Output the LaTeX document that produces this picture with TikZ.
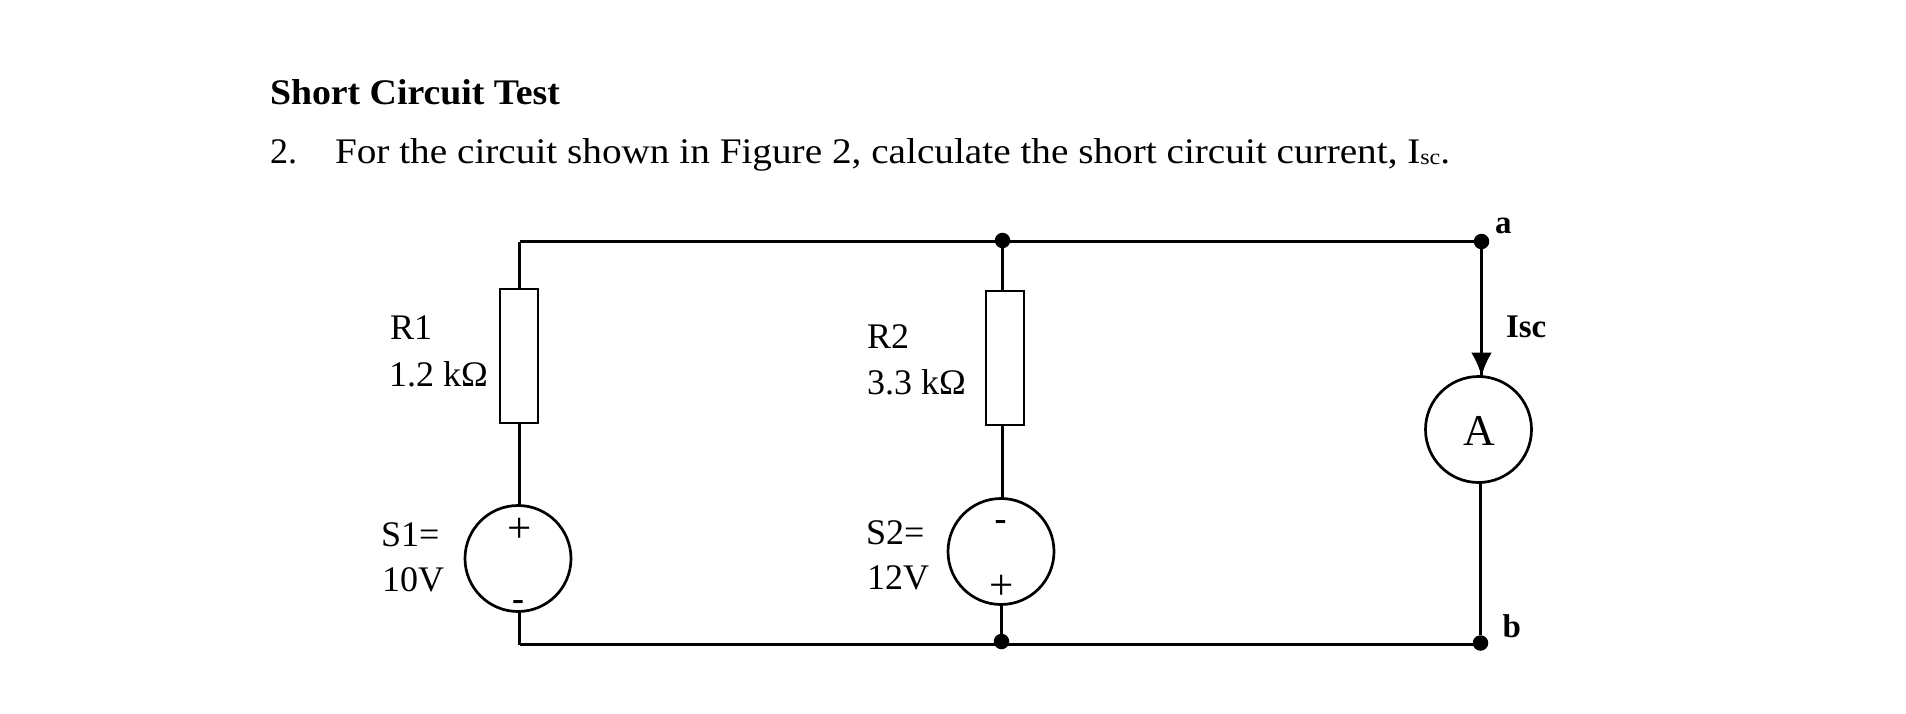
\documentclass[tikz,border=0pt]{standalone}
\usepackage{fontspec}
\setmainfont{Liberation Serif}
\newfontfamily\questionfont[FakeStretch=1.09]{Liberation Serif}
\newfontfamily\titlefont[FakeStretch=1.05]{Liberation Serif}
\usetikzlibrary{arrows.meta}
\tikzset{
  px/.style={x=1pt,y=-1pt},
  wire/.style={draw=black,line width=2.8pt},
  heavywire/.style={draw=black,line width=3.6pt},
  busbar/.style={draw=black,line width=3pt},
  component/.style={draw=black,line width=2.7pt,fill=white,inner sep=0pt,outer sep=0pt},
  roundel/.style={component,circle,minimum size=106pt},
  resistor/.style={component,rectangle,minimum width=38pt,minimum height=134pt},
  junction/.style={circle,fill=black,draw=none,minimum size=15.5pt,inner sep=0pt},
  lbl/.style={anchor=base west,inner sep=0pt,outer sep=0pt,font=\fontsize{36}{36}\selectfont},
  blbl/.style={lbl,font=\fontsize{33}{33}\selectfont\bfseries},
  sign/.style={anchor=center,inner sep=0pt,outer sep=0pt},
  plussign/.style={sign,font=\fontsize{43}{43}\selectfont},
  minussign/.style={sign,font=\fontsize{36}{36}\selectfont\bfseries},
}
\begin{document}
\begin{tikzpicture}[px]
\useasboundingbox (0,0) rectangle (1906,714);
% texts
\node[lbl,font=\fontsize{36}{36}\selectfont\titlefont\bfseries] (title) at (270,105) {Short Circuit Test};
\node[lbl] (num) at (270,164) {2.};
\node[lbl,font=\fontsize{36}{36}\selectfont\questionfont] (question) at (335,164) {For the circuit shown in Figure 2, calculate the short circuit current, I\raisebox{-1pt}{\fontsize{22}{22}\selectfont sc}.};
% junctions and corners
\coordinate (tl) at (519.5,241.5);
\coordinate (bl) at (519.5,644.5);
\coordinate (br) at (1480.5,644.5);
\node[junction] (tm) at (1002.5,240.5) {};
\node[junction] (bm) at (1001.5,641.5) {};
\node[junction] (a) at (1481.5,241.5) {};
\node[junction] (b) at (1480.5,643) {};
% components
\node[resistor] (R1) at (519,356) {};
\node[resistor] (R2) at (1005,358) {};
\node[roundel] (S1) at (518,558.5) {};
\node[roundel] (S2) at (1001,551.5) {};
\node[roundel] (A) at (1478.5,429.5) {};
% wiring
\draw[busbar] (tl) -- (a);
\draw[busbar] (bl) -- (br);
\draw[wire] (tl) -- (tl |- R1.north);
\draw[wire] (tl |- R1.south) -- (tl |- S1.north);
\draw[wire] (bl |- S1.south) -- (bl);
\draw[wire] (tm) -- (tm |- R2.north);
\draw[wire] (tm |- R2.south) -- (tm |- S2.north);
\draw[wire] (bm |- S2.south) -- (bm);
\draw[wire] (a) -- (A.north -| a);
\draw[wire] (A.south -| b) -- (b);
\coordinate (thick) at (1481.5,283);
\draw[heavywire,-{Latex[length=24pt,width=21pt]}] (thick) -- (thick |- A.north);
% labels
\node[lbl] (R1a) at (390,339) {R1};
\node[lbl] (R1b) at (389,386) {1.2 kΩ};
\node[lbl] (R2a) at (867,348) {R2};
\node[lbl] (R2b) at (867,394) {3.3 kΩ};
\node[lbl] (S1a) at (381,546) {S1=};
\node[lbl] (S1b) at (382,591) {10V};
\node[lbl] (S2a) at (866,544) {S2=};
\node[lbl] (S2b) at (867,589) {12V};
\node[plussign] (S1p) at (519.6,530) {+};
\node[minussign] (S1m) at (518,605) {-};
\node[minussign] (S2m) at (1000.7,525) {-};
\node[plussign] (S2p) at (1002,587) {+};
\node[anchor=base,inner sep=0pt,font=\fontsize{44}{44}\selectfont] (Al) at (1479,445.7) {A};
\node[blbl] (al) at (1495,233.7) {a};
\node[blbl] (bl2) at (1502.7,637.7) {b};
\node[blbl] (Isc) at (1506,337.7) {Isc};
\end{tikzpicture}
\end{document}
